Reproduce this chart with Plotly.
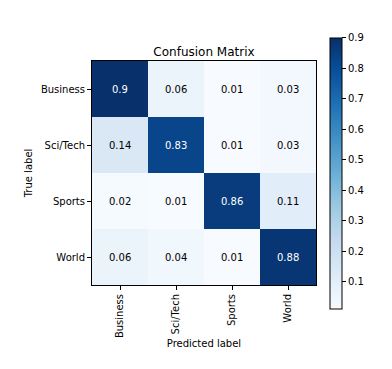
import plotly.graph_objects as go

categories = ["Business", "Sci/Tech", "Sports", "World"]
values = [
    [0.90, 0.06, 0.01, 0.03],
    [0.14, 0.83, 0.01, 0.03],
    [0.02, 0.01, 0.86, 0.11],
    [0.06, 0.04, 0.01, 0.88],
]
value_labels = [
    ["0.9", "0.06", "0.01", "0.03"],
    ["0.14", "0.83", "0.01", "0.03"],
    ["0.02", "0.01", "0.86", "0.11"],
    ["0.06", "0.04", "0.01", "0.88"],
]
cbar_ticks = [0.1, 0.2, 0.3, 0.4, 0.5, 0.6, 0.7, 0.8, 0.9]

FONT = "DejaVu Sans"
zmin, zmax = 0.01, 0.9
thresh = (zmin + zmax) / 2

fig = go.Figure(go.Heatmap(
    z=values, x=categories, y=categories,
    colorscale="Blues", zmin=zmin, zmax=zmax,
    xgap=0, ygap=0, hoverinfo="skip",
    colorbar=dict(
        thickness=12, thicknessmode="pixels",
        len=271, lenmode="pixels",
        x=1.0625, xanchor="left", xpad=0,
        y=0.498, yanchor="middle", ypad=0,
        outlinecolor="black", outlinewidth=1,
        tickvals=cbar_ticks, ticktext=[str(t) for t in cbar_ticks],
        ticks="outside", ticklen=4, tickcolor="black",
        tickfont=dict(family=FONT, size=10, color="black"),
    ),
))

annotations = []
for i, row in enumerate(values):
    for j, v in enumerate(row):
        annotations.append(dict(
            x=categories[j], y=categories[i], text=value_labels[i][j],
            showarrow=False,
            font=dict(family=FONT, size=10, color="white" if v > thresh else "black"),
        ))

fig.update_layout(
    width=392, height=369,
    margin=dict(l=84, r=84, t=53, b=92, autoexpand=False),
    paper_bgcolor="white", plot_bgcolor="white",
    font=dict(family=FONT, size=10, color="black"),
    title=dict(text="Confusion Matrix", x=0.5, xanchor="center",
               y=1 - 44 / 369, yanchor="middle",
               font=dict(family=FONT, size=12, color="black")),
    annotations=annotations,
    showlegend=False,
)
fig.update_xaxes(
    tickangle=-90, ticks="outside", ticklen=4, tickcolor="black",
    showline=True, linecolor="black", linewidth=1, mirror=True,
    showgrid=False, zeroline=False,
    title=dict(text="Predicted label", standoff=2, font=dict(family=FONT, size=10)),
    tickfont=dict(family=FONT, size=10),
)
fig.update_yaxes(
    autorange="reversed", ticks="outside", ticklen=4, tickcolor="black",
    showline=True, linecolor="black", linewidth=1, mirror=True,
    showgrid=False, zeroline=False,
    title=dict(text="True label", standoff=6, font=dict(family=FONT, size=10)),
    tickfont=dict(family=FONT, size=10),
)

fig.write_html("out.html")
